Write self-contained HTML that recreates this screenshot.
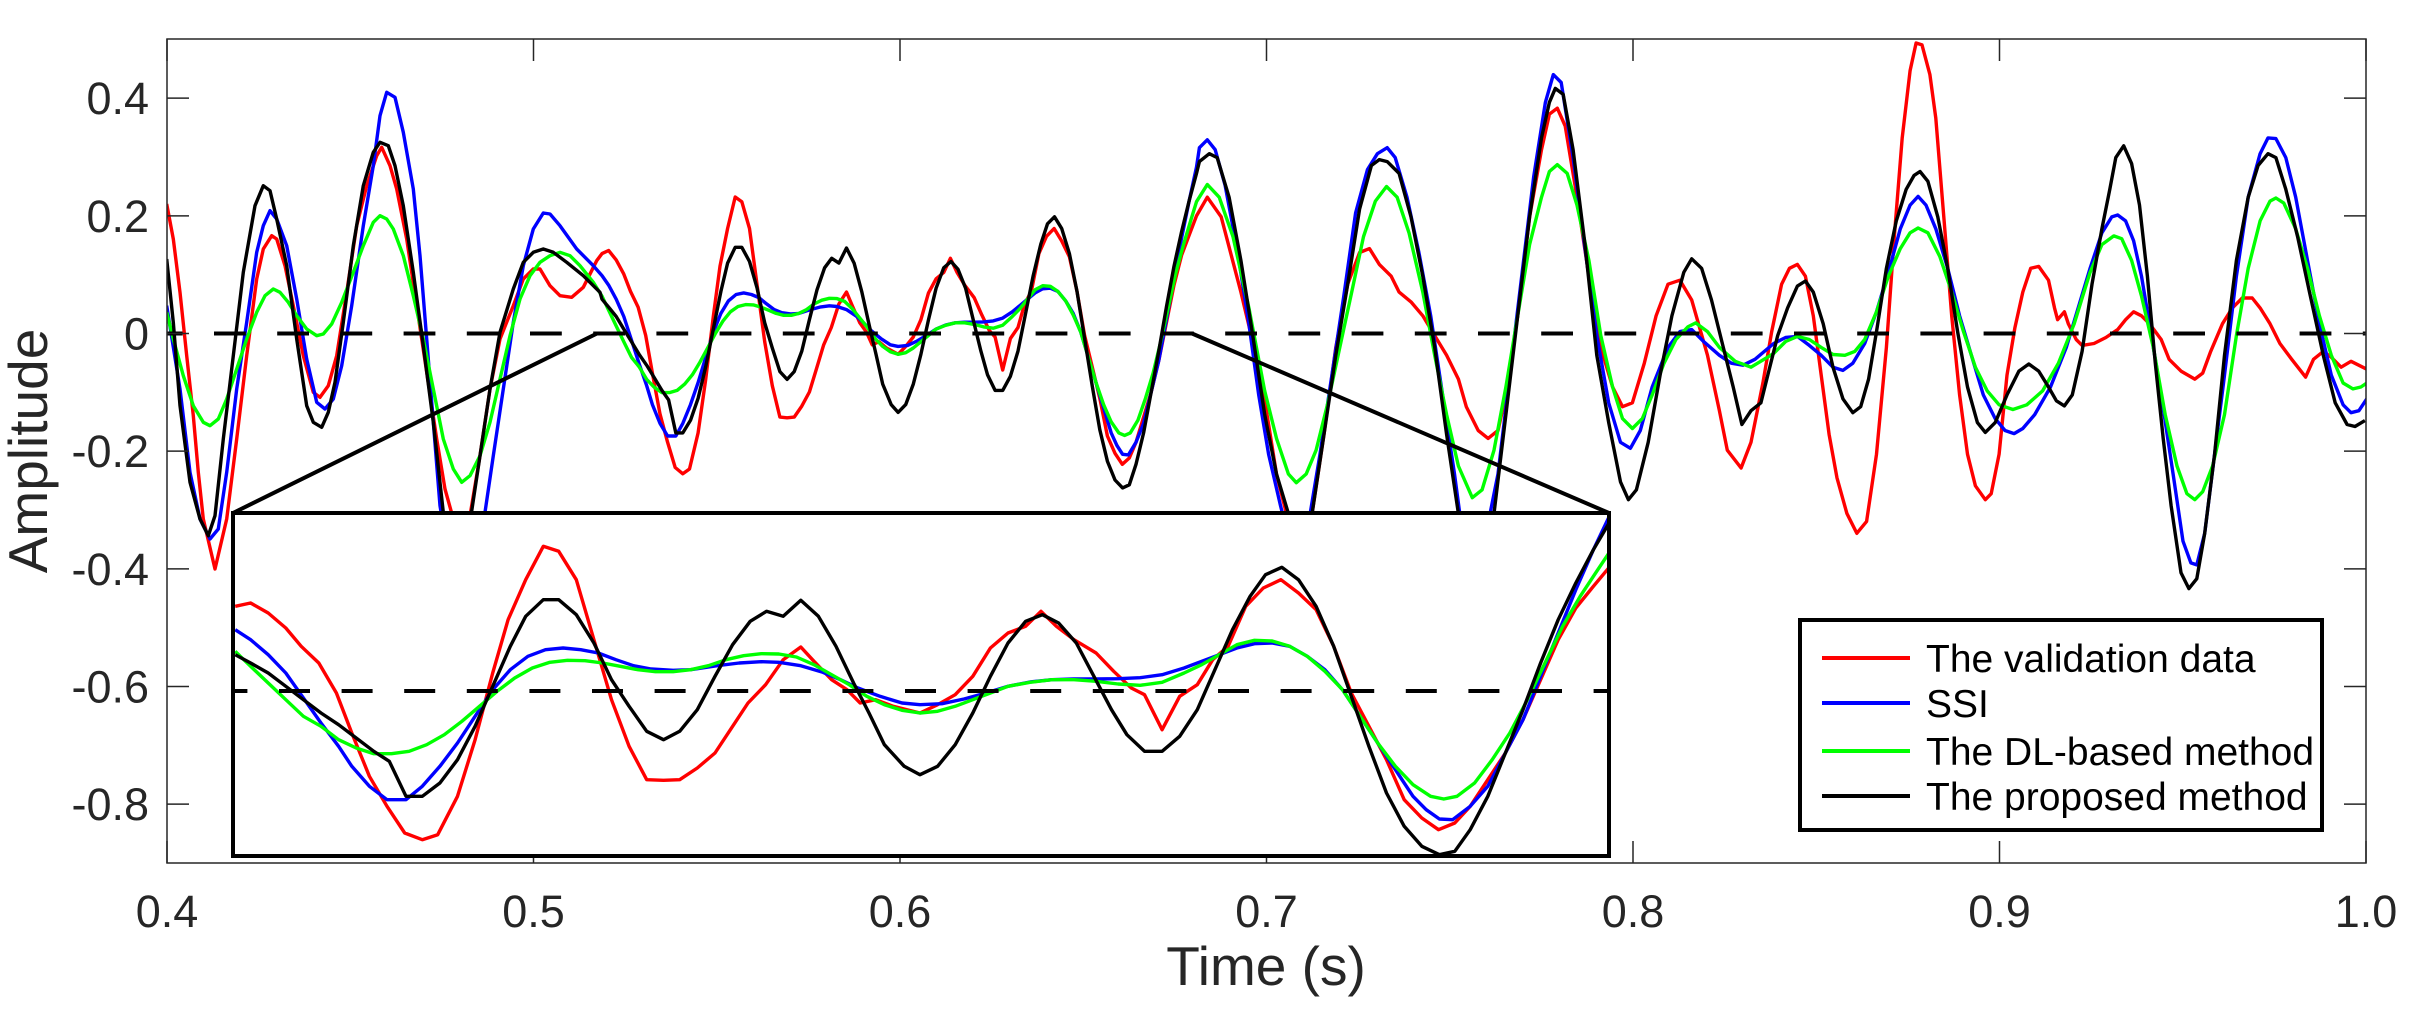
<!DOCTYPE html>
<html><head><meta charset="utf-8">
<style>
html,body{margin:0;padding:0;background:#fff;}
svg{display:block;}
text{font-family:"Liberation Sans",Arial,sans-serif;}
</style></head>
<body>
<svg id="s" width="2432" height="1036" viewBox="0 0 2432 1036" xmlns="http://www.w3.org/2000/svg">
<defs>
<clipPath id="ca"><rect x="167" y="39" width="2199" height="824"/></clipPath>
<clipPath id="ci"><rect x="235" y="515" width="1372" height="339"/></clipPath>
</defs>
<rect width="2432" height="1036" fill="#fff"/>
<g id="main" clip-path="url(#ca)" fill="none" stroke-width="3.4" stroke-linejoin="round"></g>
<line x1="167" y1="333.5" x2="2366" y2="333.5" stroke="#000" stroke-width="4" stroke-dasharray="31.8 31.4" stroke-dashoffset="16.2"/>
<line x1="597" y1="333.5" x2="233" y2="513" stroke="#000" stroke-width="4"/>
<line x1="1192" y1="333.5" x2="1609" y2="513" stroke="#000" stroke-width="4"/>
<rect x="167" y="39" width="2199" height="824" fill="none" stroke="#262626" stroke-width="1.5"/>
<g id="ticks" stroke="#262626" stroke-width="1.5"></g>
<g id="labels" fill="#262626" font-size="45"></g>
<text x="1266" y="985" font-size="55" fill="#262626" text-anchor="middle">Time (s)</text>
<text transform="translate(47,451) rotate(-90)" font-size="55" fill="#262626" text-anchor="middle">Amplitude</text>
<rect x="233" y="513" width="1376" height="343" fill="#fff" stroke="#000" stroke-width="4"/>
<g id="inset" clip-path="url(#ci)" fill="none" stroke-width="3.4" stroke-linejoin="round"></g>
<line x1="233" y1="691" x2="1609" y2="691" stroke="#000" stroke-width="4" stroke-dasharray="31 31.6" stroke-dashoffset="16.6" clip-path="url(#ci)"/>
<rect x="233" y="513" width="1376" height="343" fill="none" stroke="#000" stroke-width="4"/>
<rect x="1800" y="620" width="522" height="210" fill="#fff" stroke="#000" stroke-width="4"/>
<g stroke-width="4">
<line x1="1822" y1="658" x2="1910" y2="658" stroke="#f00"/>
<line x1="1822" y1="703" x2="1910" y2="703" stroke="#00f"/>
<line x1="1822" y1="751" x2="1910" y2="751" stroke="#0f0"/>
<line x1="1822" y1="796" x2="1910" y2="796" stroke="#000"/>
</g>
<g font-size="39" fill="#000">
<text x="1926" y="672">The validation data</text>
<text x="1926" y="717">SSI</text>
<text x="1926" y="765">The DL-based method</text>
<text x="1926" y="810">The proposed method</text>
</g>
</svg>
<script>
(function(){
var NS="http://www.w3.org/2000/svg";
function el(p,n,a){var e=document.createElementNS(NS,n);for(var k in a)e.setAttribute(k,a[k]);p.appendChild(e);return e;}
var tk=document.getElementById('ticks'),lb=document.getElementById('labels');
function Y(v){return 333.5-v*588.3;}
function X(t){return 167+(t-0.4)*3665;}
[0.4,0.2,0,-0.2,-0.4,-0.6,-0.8].forEach(function(v){
 var y=Y(v);
 el(tk,'line',{x1:167,y1:y,x2:189,y2:y});el(tk,'line',{x1:2366,y1:y,x2:2344,y2:y});
 var t=el(lb,'text',{x:149,y:y+16,'text-anchor':'end'});t.textContent=(v===0?'0':v.toFixed(1));
});
[0.4,0.5,0.6,0.7,0.8,0.9,1.0].forEach(function(v){
 var x=X(v);
 el(tk,'line',{x1:x,y1:863,x2:x,y2:841});el(tk,'line',{x1:x,y1:39,x2:x,y2:61});
 var t=el(lb,'text',{x:x,y:927,'text-anchor':'middle'});t.textContent=v.toFixed(1);
});
function cv(a,f){var o=[];for(var i=0;i<a.length;i+=2)o.push(f(a[i],a[i+1]));return o;}
var f9=function(x,y){return [160+x/3,39+y/3];};
var f7=function(x,y){return [1150+x/2.529,39+y/2.529];};
var f8=function(x,y){return [1750+x/2.529,39+y/2.529];};
var f10=function(x,y){return [233+x/2.272,513+y/3];};
var f11=function(x,y){return [920+x/2.272,513+y/3];};
var D={
red:{
z9:[20,495,40,600,60,760,80,950,100,1130,115,1300,130,1440,165,1590,200,1440,230,1200,260,950,290,720,310,630,335,590,350,600,375,680,400,800,430,950,460,1060,480,1075,505,1040,530,950,560,760,590,560,620,440,650,350,665,325,690,380,710,450,740,600,770,800,800,1000,830,1200,855,1350,880,1440,905,1480,930,1430,960,1250,990,1050,1020,900,1060,800,1090,720,1120,690,1140,690,1170,740,1200,770,1235,775,1270,745,1310,665,1360,645,1400,700,1440,800],
z10:[5,280,40,270,80,300,120,345,155,400,195,450,235,540,270,660,310,790,350,880,390,960,430,980,465,965,510,850,550,680,590,480,625,320,665,200,705,100,740,115,780,200,820,380,860,560,900,700,940,800,978,802,1015,800,1055,765,1095,720,1130,650,1170,570,1210,515,1250,440,1290,402,1320,445,1360,500,1395,530,1425,570,1460,560,1500,580],
z11:[0,600,40,575,80,545,120,490,160,405,200,360,240,340,275,295,310,340,350,380,400,420,440,475,480,525,510,545,550,650,590,550,630,515,665,440,700,400,740,280,780,225,820,200,860,240,900,290,940,400,980,540,1020,640,1060,740,1100,860,1140,915,1178,950,1215,930,1250,880,1290,800,1330,720,1370,620,1410,500,1450,380,1490,285,1530,220,1568,160],
z7:[100,450,145,400,180,450,230,640,280,850,320,1100,345,1200,375,1280,410,1200,440,1000,470,780,500,620,530,540,555,530,580,570,610,600,630,640,660,665,690,700,720,750,750,800,780,860,800,930,830,990,855,1010,880,990,900,900,930,700,960,450,990,280,1010,190,1030,175,1050,220,1080,400,1110,600,1140,780,1170,880,1195,930,1220,920,1250,820,1280,700,1310,620,1340,610,1370,660,1410,800,1440,940,1460,1040,1495,1085,1520,1020,1550,870,1568,800],
z8:[55,740,80,620,100,580,120,570,140,600,160,700,180,850,200,1000,220,1110,245,1200,270,1250,295,1220,320,1050,345,780,365,500,385,250,405,80,420,10,435,15,455,90,470,200,490,450,510,700,530,900,550,1050,570,1130,595,1165,610,1150,630,1050,650,850,670,730,690,640,710,580,730,575,755,610,770,680,778,710,795,690,805,720,825,760,840,775,870,770,900,755,930,735,950,710,970,690,990,700,1010,720,1040,760,1060,810,1090,840,1125,860,1145,845,1165,790,1195,720,1220,680,1245,655,1270,655,1290,680,1315,720,1340,770,1370,810,1405,855,1425,810,1450,790,1470,805,1495,830,1520,815,1560,835]},
blue:{
z9:[20,800,60,1050,90,1300,120,1440,150,1500,175,1470,200,1300,230,1050,260,850,290,640,310,560,330,515,350,540,380,620,410,780,440,960,470,1090,495,1110,520,1080,545,980,575,800,610,560,640,380,660,230,680,160,705,175,730,280,760,450,780,650,800,900,820,1150,840,1400,860,1520,900,1620,950,1580,975,1420,1000,1250,1030,1050,1060,850,1090,680,1120,570,1150,522,1170,525,1200,560,1250,630,1300,680,1340,720,1360,745,1390,790,1420,860,1440,910],
z10:[5,350,40,380,80,425,120,480,160,555,200,630,240,700,270,760,310,820,350,860,393,860,430,820,470,760,510,690,550,610,590,530,630,470,670,430,710,410,750,405,790,410,830,420,870,440,910,458,950,468,1000,472,1040,470,1100,458,1150,450,1200,446,1240,448,1290,458,1340,478,1380,500,1420,525,1470,550,1520,570],
z11:[0,575,50,572,100,558,150,540,200,520,250,507,300,500,350,498,400,498,450,497,500,494,550,485,600,465,640,445,680,425,720,405,760,392,800,390,840,400,880,430,920,470,960,530,1000,610,1040,690,1080,770,1120,850,1150,890,1180,918,1210,920,1250,880,1290,820,1330,720,1370,620,1410,490,1450,360,1490,230,1530,110,1568,5],
z7:[125,275,145,255,165,280,190,370,220,530,250,720,275,900,300,1050,330,1180,350,1260,375,1310,400,1230,430,1050,460,850,490,650,520,440,550,330,575,290,600,275,620,300,650,400,680,540,710,700,740,900,770,1100,790,1250,815,1320,850,1250,880,1100,910,850,940,600,970,350,1000,160,1020,90,1040,110,1070,300,1100,530,1130,750,1160,920,1190,1020,1215,1035,1240,990,1270,880,1310,780,1340,740,1370,735,1400,765,1440,800,1470,820,1500,825,1530,810,1568,775],
z8:[60,770,90,755,120,752,150,775,180,800,210,830,235,838,260,820,290,770,320,690,350,590,380,480,405,420,425,398,445,420,470,480,500,580,530,700,560,800,590,900,620,960,645,990,668,998,690,985,720,950,760,880,800,780,830,680,860,580,890,490,915,450,930,445,950,460,970,510,990,600,1010,720,1040,900,1070,1100,1095,1270,1115,1325,1130,1330,1150,1250,1175,1050,1200,850,1230,600,1260,400,1290,290,1310,250,1330,252,1355,300,1380,400,1410,560,1440,720,1470,850,1500,925,1520,945,1540,940,1560,910]},
green:{
z9:[20,820,40,900,70,1010,100,1100,130,1150,150,1160,175,1140,200,1080,230,990,260,900,290,820,315,770,340,750,360,760,385,790,410,830,440,870,470,890,490,885,515,855,545,790,580,700,610,620,640,550,660,530,680,540,700,570,730,650,760,770,790,900,820,1050,850,1200,880,1290,905,1330,930,1310,960,1250,990,1150,1020,1020,1050,890,1080,780,1110,710,1140,670,1170,650,1200,640,1230,650,1260,680,1300,730,1340,790,1380,860,1420,930,1440,970],
z10:[5,415,40,460,80,510,120,560,160,610,200,640,240,680,280,705,320,722,360,722,400,715,440,695,480,665,520,625,560,580,600,535,640,495,680,465,720,448,760,442,800,443,840,450,880,460,920,470,960,476,1000,476,1040,470,1080,458,1120,440,1160,428,1200,422,1240,423,1280,432,1320,455,1360,485,1400,515,1440,550,1480,575,1520,592],
z11:[0,600,40,595,80,580,120,560,160,540,200,520,250,508,300,500,350,500,400,505,450,513,500,517,550,508,600,480,640,455,680,425,720,395,760,382,800,384,840,400,880,430,920,475,960,530,1000,610,1040,690,1080,760,1120,815,1160,850,1190,858,1220,850,1260,810,1300,740,1340,660,1380,560,1420,450,1460,340,1500,250,1540,170,1568,115],
z7:[145,368,175,400,210,500,250,680,290,890,320,1010,350,1100,370,1122,395,1100,420,1040,450,920,480,780,510,640,540,500,570,410,598,373,625,400,655,490,690,640,720,800,750,950,780,1080,815,1160,840,1140,870,1040,900,880,930,700,960,520,990,400,1010,335,1030,318,1055,340,1080,420,1110,560,1140,750,1170,880,1195,960,1220,985,1245,960,1270,900,1300,820,1330,760,1360,728,1380,718,1410,740,1440,780,1480,815,1520,830,1568,810],
z8:[60,795,90,765,120,752,150,760,180,780,210,798,240,800,265,790,290,760,320,690,350,600,380,530,405,490,425,478,450,490,480,550,510,640,540,740,570,830,600,890,630,925,665,937,700,925,740,890,780,820,820,720,860,590,890,520,920,498,940,505,965,560,990,650,1020,780,1050,950,1080,1080,1105,1150,1125,1165,1145,1145,1170,1080,1200,950,1230,750,1260,580,1290,460,1315,410,1330,402,1350,415,1380,480,1410,580,1440,700,1470,800,1500,870,1525,885,1545,880,1560,870]},
black:{
z9:[20,660,40,850,60,1100,90,1330,120,1440,145,1490,165,1430,190,1200,220,950,250,700,285,500,310,440,330,455,350,540,380,680,410,900,440,1100,460,1150,485,1165,505,1120,525,1030,550,850,580,620,610,440,640,340,660,310,685,320,705,380,730,500,760,700,790,920,820,1150,850,1420,870,1530,900,1560,930,1450,960,1250,990,1050,1020,880,1060,750,1090,670,1120,640,1150,630,1180,640,1220,670,1270,710,1320,760,1370,820,1410,880,1440,940],
z10:[5,425,40,450,80,480,120,520,160,560,200,600,240,635,280,675,320,715,355,745,393,850,430,850,470,810,510,740,550,640,590,520,630,400,665,310,705,260,740,260,780,305,820,390,860,500,900,580,940,655,978,680,1015,655,1055,590,1095,490,1135,395,1175,325,1212,295,1250,310,1290,262,1330,310,1370,400,1410,510,1445,600,1480,695,1525,760],
z11:[0,785,40,760,80,695,120,600,160,490,200,390,240,325,278,305,315,330,355,390,395,490,435,590,470,665,510,715,550,715,590,670,630,590,670,470,710,350,750,250,785,185,822,163,860,200,900,280,940,400,980,550,1020,700,1060,840,1100,940,1140,1000,1180,1025,1215,1015,1250,950,1290,850,1330,720,1370,590,1410,450,1450,320,1490,210,1530,110,1568,25],
z7:[125,310,150,290,170,300,200,400,230,560,260,750,290,950,320,1100,350,1200,380,1300,410,1200,440,1000,470,800,500,620,530,430,560,320,580,305,600,310,630,340,660,450,690,600,720,780,750,1000,780,1200,810,1320,840,1320,870,1200,900,950,930,700,960,450,990,250,1010,160,1025,125,1045,140,1070,280,1100,520,1130,800,1160,970,1190,1120,1210,1165,1230,1140,1260,1020,1290,850,1320,700,1350,590,1370,556,1395,580,1420,660,1450,780,1475,880,1497,975,1520,940,1545,920,1568,850],
z8:[45,850,70,750,95,680,120,625,140,612,160,640,185,720,210,830,235,910,260,945,280,930,300,860,320,740,345,580,370,460,395,380,415,345,430,335,450,360,475,450,500,580,525,740,550,880,575,970,595,995,620,970,650,900,680,840,705,822,730,840,755,880,775,915,795,928,815,900,840,790,865,620,890,480,910,380,925,300,945,270,965,315,985,420,1005,600,1025,820,1045,1010,1065,1180,1090,1350,1110,1390,1130,1365,1150,1250,1175,1050,1200,800,1230,560,1260,400,1285,320,1310,290,1330,300,1355,380,1385,500,1415,640,1450,800,1480,920,1510,975,1530,980,1555,965]}
};
var col={red:'#ff0000',blue:'#0000ff',green:'#00ff00',black:'#000000'};
var gm=document.getElementById('main'),gi=document.getElementById('inset');
function ps(p){return p.map(function(q){return q[0].toFixed(1)+','+q[1].toFixed(1);}).join(' ');}
['red','blue','green','black'].forEach(function(k){
 var d=D[k];
 var ins=cv(d.z10,f10).concat(cv(d.z11,f11));
 var insP=[],lx=-1;ins.forEach(function(q){if(q[0]>lx){insP.push(q);lx=q[0];}});
 var mapped=insP.map(function(q){return [601+(q[0]-233)/2.3126,333.5+(q[1]-691)/1.06];});
 var pts=[];
 cv(d.z9,f9).forEach(function(q){if(q[0]<603)pts.push(q);});
 mapped.forEach(function(q){if(q[0]>pts[pts.length-1][0])pts.push(q);});
 var last=pts[pts.length-1][0];
 cv(d.z7,f7).forEach(function(q){if(q[0]>last+1&&q[0]<1770){pts.push(q);}});
 last=pts[pts.length-1][0];
 cv(d.z8,f8).forEach(function(q){if(q[0]>last+1){pts.push(q);last=q[0];}});
 el(gm,'polyline',{points:ps(pts),stroke:col[k]});
 el(gi,'polyline',{points:ps(insP),stroke:col[k]});
});
})();
</script>
</body></html>
